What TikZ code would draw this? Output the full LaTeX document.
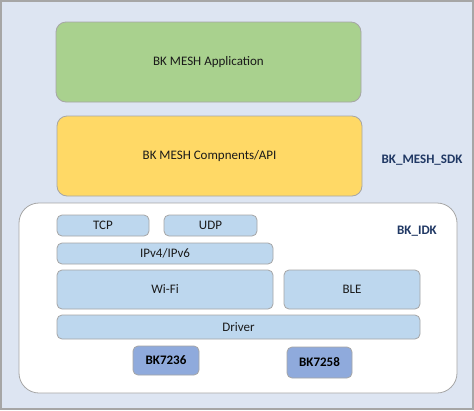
\documentclass[tikz,border=0pt]{standalone}
\usepackage{fontspec}
\setmainfont{Carlito}
\usetikzlibrary{positioning}
\definecolor{bgblue}{HTML}{DDE5F2}
\definecolor{appgreen}{HTML}{A9D18E}
\definecolor{apiyellow}{HTML}{FFD966}
\definecolor{layerblue}{HTML}{BDD7EE}
\definecolor{chipblue}{HTML}{8FAADC}
\definecolor{edgegray}{HTML}{A6A6A6}
\definecolor{labelblue}{HTML}{203864}
\definecolor{txtgray}{HTML}{1A1A1A}

\begin{document}
\begin{tikzpicture}[x=1pt,y=-1pt,
  every node/.style={font=\fontsize{13}{15}\selectfont, text=txtgray},
  layer/.style={draw=edgegray, line width=0.8pt, inner sep=0pt, rounded corners=5pt, fill=layerblue},
  bigbox/.style={layer, rounded corners=10pt},
  chip/.style={layer, fill=chipblue, font=\fontsize{13}{15}\selectfont\bfseries, text=black},
  tag/.style={font=\fontsize{13}{15}\selectfont\bfseries, text=labelblue}]
  \useasboundingbox (0,0) rectangle (474,410);
  % background frame
  \draw[fill=bgblue, draw=edgegray, line width=2pt] (1,1) rectangle (473,409);

  % SDK layers
  \node[bigbox, fill=appgreen, minimum width=305pt, minimum height=80pt] (app) at (208.5,62) {BK MESH Application};
  \node[bigbox, fill=apiyellow, minimum width=305pt, minimum height=80pt] (api) at (209.5,156) {BK MESH Compnents/API};
  \node[tag] (sdk) at (422,160) {BK\_MESH\_SDK};

  % IDK
  \node[bigbox, fill=white, rounded corners=20pt, minimum width=438pt, minimum height=190pt] (idk) at (238,298) {};
  \node[tag] (idklabel) at (417,231) {BK\_IDK};

  \node[layer, minimum width=92pt, minimum height=21pt] (tcp) at (103,225.5) {TCP};
  \node[layer, minimum width=93pt, minimum height=21pt] (udp) at (210.5,225.5) {UDP};
  \node[layer, minimum width=216pt, minimum height=21pt] (ip) at (165,253.5) {IPv4/IPv6};
  \node[layer, minimum width=216pt, minimum height=39pt] (wifi) at (165,289.5) {Wi-Fi};
  \node[layer, minimum width=136pt, minimum height=39pt] (ble) at (352,289.5) {BLE};
  \node[layer, minimum width=363pt, minimum height=24pt] (driver) at (238.5,327) {Driver};

  % chips
  \node[chip, minimum width=66pt, minimum height=29pt] (bk7236) at (166,360.5) {BK7236};
  \node[chip, minimum width=65pt, minimum height=31pt] (bk7258) at (319.5,362.5) {BK7258};
\end{tikzpicture}
\end{document}
